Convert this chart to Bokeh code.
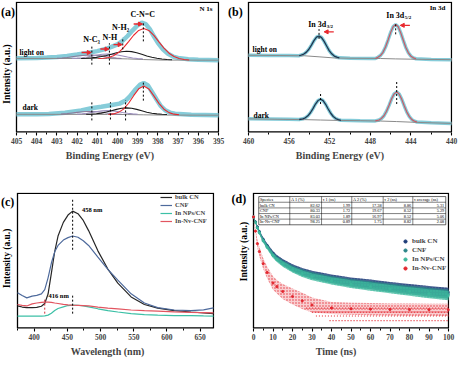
import math
from bokeh.plotting import figure
from bokeh.layouts import column, row
from bokeh.models import Range1d, FixedTicker, Arrow, NormalHead, Legend, LegendItem
from bokeh.core.properties import value
from bokeh.embed import file_html
from bokeh.resources import INLINE

FONT = "Liberation Serif"

# ---------------- (a) N 1s XPS ----------------
a_light_E = [405.0, 404.0, 403.5, 403.0, 402.5, 402.0, 401.5, 401.0, 400.6, 400.3, 400.0, 399.75,
             399.5, 399.25, 399.0, 398.8, 398.6, 398.4, 398.2, 398.0, 397.75, 397.5, 397.25, 397.0,
             396.5, 396.0, 395.0]
a_light_I = [57.1, 57.2, 57.6, 58.1, 58.9, 60.0, 61.2, 62.6, 64.2, 65.8, 67.8, 70.4,
             74.2, 78.6, 82.5, 84.4, 83.4, 79.5, 74.0, 69.0, 64.0, 60.5, 58.4, 57.4,
             56.4, 56.0, 55.6]
a_light_bg_E = [405.0, 400.5, 399.5, 398.7, 397.8, 395.0]
a_light_bg_I = [57.0, 56.9, 56.6, 56.1, 55.7, 55.6]
a_light_CNC_E = [400.95, 400.7, 400.45, 400.2, 399.95, 399.7, 399.45, 399.2, 398.95, 398.7,
                 398.45, 398.2, 397.95, 397.7, 397.45, 397.2, 396.95, 396.7, 396.45]
a_light_CNC_I = [56.9, 57.1, 57.7, 59.0, 61.5, 65.2, 69.9, 74.8, 78.5, 79.9,
                 78.5, 74.7, 69.7, 64.9, 61.0, 58.4, 56.9, 56.1, 55.8]
a_light_NH2_E = [401.8, 401.55, 401.3, 401.05, 400.8, 400.55, 400.3, 400.05, 399.8, 399.55,
                 399.3, 399.05, 398.8, 398.55, 398.3, 398.05, 397.8, 397.55, 397.3]
a_light_NH2_I = [56.9, 57.1, 57.4, 57.8, 58.4, 59.2, 60.2, 61.3, 62.1, 62.5,
                 62.2, 61.3, 60.1, 58.9, 57.9, 57.1, 56.5, 56.1, 55.9]
a_light_NH_E = [402.25, 402.0, 401.75, 401.5, 401.25, 401.0, 400.75, 400.5, 400.25, 400.0,
                399.75, 399.5, 399.25, 399.0, 398.75]
a_light_NH_I = [57.0, 57.2, 57.5, 58.0, 58.8, 59.6, 60.2, 60.4, 60.2, 59.6,
                58.8, 58.0, 57.3, 56.9, 56.6]
a_light_NC3_E = [403.0, 402.75, 402.5, 402.25, 402.0, 401.75, 401.5, 401.3, 401.05, 400.8,
                 400.55, 400.3, 400.05, 399.8]
a_light_NC3_I = [57.1, 57.3, 57.7, 58.3, 58.8, 59.2, 59.4, 59.5, 59.3, 58.9,
                 58.3, 57.7, 57.2, 56.9]

a_dark_E = [405.0, 404.0, 403.4, 402.6, 401.8, 401.3, 400.8, 400.35, 399.9, 399.6, 399.4, 399.15,
            398.9, 398.7, 398.5, 398.27, 398.05, 397.85, 397.63, 397.4, 397.15, 396.35, 395.0]
a_dark_I = [14.0, 14.0, 14.2, 15.2, 17.0, 18.6, 19.8, 21.0, 22.2, 24.5, 27.6, 32.4,
            36.6, 38.0, 36.4, 30.6, 25.0, 20.2, 17.0, 15.3, 14.5, 13.6, 13.3]
a_dark_bg_E = [405.0, 400.5, 399.5, 398.7, 397.8, 395.0]
a_dark_bg_I = [14.0, 13.9, 13.8, 13.6, 13.4, 13.3]
a_dark_CNC_E = [400.45, 400.2, 399.95, 399.7, 399.45, 399.2, 398.95, 398.7,
                398.45, 398.2, 397.95, 397.7, 397.45, 397.2, 396.95]
a_dark_CNC_I = [13.9, 14.3, 15.5, 18.0, 22.5, 28.3, 33.6, 35.7,
                33.5, 28.2, 22.4, 17.9, 15.3, 14.1, 13.6]
a_dark_NH2_E = [401.55, 401.3, 401.05, 400.8, 400.55, 400.3, 400.05, 399.8, 399.55,
                399.3, 399.05, 398.8, 398.55, 398.3, 398.05, 397.8, 397.55]
a_dark_NH2_I = [14.0, 14.1, 14.4, 14.9, 15.7, 16.7, 17.8, 18.6, 18.9,
                18.6, 17.8, 16.7, 15.6, 14.8, 14.3, 14.0, 13.8]
a_dark_NH_E = [402.0, 401.75, 401.5, 401.25, 401.0, 400.75, 400.5, 400.25, 400.0, 399.75,
               399.5, 399.25, 399.0]
a_dark_NH_I = [14.1, 14.4, 14.8, 15.5, 16.1, 16.6, 16.8, 16.6, 16.1, 15.4, 14.8, 14.3, 14.0]
a_dark_NC3_E = [402.8, 402.5, 402.25, 402.0, 401.75, 401.5, 401.3, 401.05, 400.8, 400.55,
                400.3, 400.05, 399.8]
a_dark_NC3_I = [14.1, 14.5, 15.0, 15.5, 15.9, 16.1, 16.2, 16.0, 15.6, 15.0, 14.5, 14.2, 14.0]

a_peak_labels = ["N-C\u2083", "N-H", "N-H\u2082", "C-N=C"]
a_light_peak_E = [401.27, 400.4, 399.74, 398.72]
a_dark_peak_E = [401.27, 400.35, 399.6, 398.72]

# ---------------- (b) In 3d XPS ----------------
b_light_E = [460, 458, 456, 455, 454.8, 454.55, 454.3, 454.05, 453.8, 453.55, 453.3, 453.05,
             452.8, 452.55, 452.3, 452.05, 451.8, 451.55, 451.3, 451.05, 450, 448, 447.5,
             447.25, 447.0, 446.75, 446.5, 446.25, 446.0, 445.75, 445.5, 445.25, 445.0, 444.75,
             444.5, 444.25, 444.0, 443.75, 443.5, 442, 440]
b_light_I = [59.4, 59.3, 59.2, 59.1, 59.6, 60.3, 61.8, 64.0, 67.2, 70.6, 73.3, 74.2,
             73.0, 70.1, 66.5, 63.0, 60.5, 58.8, 57.9, 57.4, 57.1, 57.0, 56.9,
             57.9, 59.2, 61.7, 65.7, 71.1, 76.8, 81.4, 83.0, 81.3, 76.6, 70.9,
             65.4, 61.3, 58.7, 57.4, 56.7, 56.2, 56.0]
b_light_bg_E = [460, 454.5, 453.05, 451.5, 450, 447, 445.5, 444, 440]
b_light_bg_I = [59.4, 59.0, 58.2, 57.3, 57.1, 56.9, 56.6, 56.4, 56.0]
b_dark_E = [460, 458, 456, 455, 454.65, 454.4, 454.15, 453.9, 453.65, 453.4, 453.15, 452.9,
            452.65, 452.4, 452.15, 451.9, 451.65, 451.4, 451.15, 450.9, 449, 447.5,
            447.15, 446.9, 446.65, 446.4, 446.15, 445.9, 445.65, 445.4, 445.15, 444.9, 444.65,
            444.4, 444.15, 443.9, 443.65, 443.4, 442, 440]
b_dark_I = [10.5, 10.3, 10.1, 10.0, 10.5, 11.3, 12.8, 15.2, 18.4, 21.9, 24.6, 25.6,
            24.5, 21.7, 18.1, 14.8, 12.3, 10.7, 9.9, 9.4, 9.1, 8.9,
            9.6, 10.8, 12.9, 16.4, 20.9, 25.9, 29.7, 31.1, 29.5, 25.5, 20.4,
            15.7, 12.2, 9.9, 8.7, 8.1, 7.5, 7.0]
b_dark_bg_E = [460, 454.5, 452.9, 451.2, 449, 447, 445.4, 443.5, 440]
b_dark_bg_I = [10.5, 9.9, 9.6, 9.3, 9.1, 8.8, 8.4, 7.8, 7.0]
b_light_peak_E = [453.05, 445.5]
b_dark_peak_E = [452.9, 445.4]

# ---------------- (c) PL spectra ----------------
c_wl = [375, 382, 389, 397, 404, 411, 416, 421, 426, 431, 436, 444, 451, 458, 466, 474, 482,
        496, 511, 526, 546, 566, 586, 611, 636, 655, 670]
c_bulkCN = [16.7, 15.9, 15.5, 15.5, 15.7, 16.5, 18.5, 25.5, 41.0, 57.0, 68.5, 78.6, 84.0, 86.9,
            85.0, 80.0, 72.5, 57.5, 44.0, 33.6, 23.4, 17.8, 15.1, 13.3, 12.2, 11.5, 11.0]
c_CNF = [26.4, 24.4, 22.7, 24.0, 24.5, 25.6, 28.8, 37.5, 48.5, 56.8, 61.5, 65.5, 67.3, 68.5,
         67.6, 65.0, 61.5, 52.8, 43.8, 35.8, 25.7, 18.9, 15.5, 13.7, 13.3, 13.8, 15.3]
c_InNPsCN = [9.2, 9.2, 9.2, 9.2, 9.2, 9.2, 9.4, 9.9, 11.3, 13.3, 14.8, 16.0, 17.0, 17.3,
             17.2, 16.8, 16.0, 14.6, 13.3, 12.2, 11.0, 10.3, 9.9, 9.6, 9.5, 9.3, 9.2]
c_InNvCNF = [17.8, 17.1, 16.7, 18.2, 18.9, 19.4, 19.6, 19.6, 19.4, 18.9, 18.5, 17.8, 17.5, 17.3,
             17.1, 16.9, 16.7, 15.9, 15.1, 14.5, 13.7, 13.2, 12.8, 12.3, 11.9, 11.7, 11.5]
c_names = ["bulk CN", "CNF", "In NPs/CN", "In-Nv-CNF"]
c_peak_main = 458
c_peak_red = 416

# ---------------- (d) TRPL decay ----------------
d_t = [0, 1, 2, 3, 5, 7, 10, 12, 15, 20, 25, 30, 40, 50, 60, 70, 80, 90, 100]
d_bulkCN = [82.6, 79.0, 75.2, 71.8, 66.0, 61.5, 55.6, 52.6, 49.4, 45.3, 42.4, 40.2, 37.2, 34.9,
            33.2, 31.4, 29.7, 28.1, 26.8]
d_CNF = [82.6, 78.8, 74.8, 71.3, 65.4, 60.8, 54.8, 51.8, 48.6, 44.4, 41.5, 39.3, 36.2, 33.8,
         32.0, 30.2, 28.5, 26.8, 25.5]
d_InNPsCN = [82.6, 78.5, 74.4, 70.8, 64.8, 60.1, 54.0, 51.0, 47.8, 43.6, 40.6, 38.3, 35.2, 32.8,
             31.0, 29.2, 27.4, 25.7, 24.4]
d_InNvCNF = [82.6, 72.1, 62.8, 57.0, 48.0, 41.5, 33.7, 31.0, 27.4, 23.7, 20.5, 17.4, 15.2, 14.6,
             14.3, 14.1, 14.0, 13.9, 13.8]
d_spread_cn = [0.3, 0.8, 1.0, 1.2, 1.3, 1.5, 1.7, 1.8, 2.0, 2.2, 2.4, 2.5, 2.7, 2.9, 3.0, 3.1,
               3.2, 3.3, 3.4]
d_spread_red = [0.3, 2.0, 3.0, 3.5, 4.0, 4.5, 5.0, 5.0, 5.5, 6.0, 6.0, 5.5, 4.5, 4.5, 4.5, 4.5,
                4.5, 4.5, 4.5]
d_red_levels = [15.1, 12.1, 9.3, 5.8]
d_red_level_start = [27, 30, 32, 39]
d_table_head = ["Species", "A 1 (%)", "\u03c4 1 (ns)", "A 2 (%)", "\u03c4 2 (ns)", "\u03c4 average (ns)"]
d_species = ["bulk CN", "CNF", "In NPs/CN", "In-Nv-CNF"]
d_A1 = ["82.62", "80.33", "83.03", "98.25"]
d_tau1 = ["1.99", "1.72", "1.89", "0.89"]
d_A2 = ["17.38", "19.67", "16.97", "1.75"]
d_tau2 = ["8.86", "8.52", "8.52", "8.82"]
d_tauavg = ["5.31", "5.29", "5.06", "2.08"]

# ---------------- styling helpers ----------------
CYAN = "#86CCD9"
RED = "#E8282E"
BLACK = "#1A1A1A"
LAV = "#9C8FBE"
PURP = "#8C7A9A"
GREY = "#8A8A8A"


def make_fig(W, H, L, br, bt, bb, x0, x1, xticks, xminor, xlabel):
    """Frame spans the canvas from x=0; the drawn box starts L px in, so labels
    left of the box (panel letter, y title) are inside the frame."""
    fw = W - br
    fh = H - bt - bb
    perx = (x1 - x0) / (fw - 1 - L)
    xs = x0 - L * perx
    xe = x1 + perx
    pery = 100.0 / (fh - 1)
    p = figure(width=W, height=H, x_range=Range1d(xs, xe), y_range=Range1d(0, 100 + pery),
               output_backend="svg", toolbar_location=None, y_axis_location=None,
               min_border_left=0, min_border_right=br, min_border_top=bt, min_border_bottom=bb)
    p.grid.visible = False
    p.outline_line_color = None
    xa = p.xaxis[0]
    xa.ticker = FixedTicker(ticks=xticks, minor_ticks=xminor)
    xa.axis_label = xlabel
    xa.axis_label_text_font = FONT
    xa.axis_label_text_font_style = "bold"
    xa.axis_label_text_font_size = "10px"
    xa.axis_label_standoff = 3
    xa.major_label_text_font = FONT
    xa.major_label_text_font_style = "bold"
    xa.major_label_text_font_size = "7.5px"
    xa.major_label_standoff = 2
    xa.axis_line_color = None
    xa.major_tick_in = 0
    xa.major_tick_out = 3
    xa.major_tick_line_width = 1.1
    xa.minor_tick_in = 0
    xa.minor_tick_out = 2
    p.line([x0, x0, x1, x1], [0, 100, 100, 0], line_color="black", line_width=1.3,
           line_join="miter")
    p.line([x0, x1], [0, 0], line_color="black", line_width=2.6)
    return p, (lambda px: xs + px * perx)


def txt(p, x, y, s, size, color="black", align="center", baseline="middle", style="bold",
        angle=0.0):
    p.text(x=[x], y=[y], text=[s], text_font=value(FONT), text_font_style=style,
           text_font_size=size, text_color=color, text_align=align, text_baseline=baseline,
           angle=angle)


def panel_label(p, x, y, s):
    txt(p, x, y, s, "12px", align="left")


def ytitle(p, x, y):
    txt(p, x, y, "Intensity (a.u.)", "9.5px", angle=math.pi / 2)


def vdash(p, x, y0, y1, color="black"):
    p.line([x, x], [y0, y1], line_color=color, line_width=1, line_dash="2 2")


def arrow(p, x0, y0, x1, y1):
    p.add_layout(Arrow(end=NormalHead(size=4, fill_color=RED, line_color=RED),
                       x_start=x0, y_start=y0, x_end=x1, y_end=y1,
                       line_color=RED, line_width=1.4))


# ================= (a) =================
pa, pxa = make_fig(227, 163, 16, 8, 1, 26, 405, 395, list(range(395, 406)),
                   [395.5 + i for i in range(10)], "Binding Energy (eV)")
for E, I, bgE, bgI, comps in [
    (a_light_E, a_light_I, a_light_bg_E, a_light_bg_I,
     [(a_light_NC3_E, a_light_NC3_I, PURP), (a_light_NH_E, a_light_NH_I, LAV),
      (a_light_NH2_E, a_light_NH2_I, BLACK), (a_light_CNC_E, a_light_CNC_I, RED)]),
    (a_dark_E, a_dark_I, a_dark_bg_E, a_dark_bg_I,
     [(a_dark_NC3_E, a_dark_NC3_I, PURP), (a_dark_NH_E, a_dark_NH_I, LAV),
      (a_dark_NH2_E, a_dark_NH2_I, BLACK), (a_dark_CNC_E, a_dark_CNC_I, RED)])]:
    pa.line(E, I, line_color=CYAN, line_width=4.5)
    pa.line(bgE, bgI, line_color=GREY, line_width=1)
    for cE, cI, col in comps:
        pa.line(cE, cI, line_color=col, line_width=1.1)

light_top = [67.4, 68.6, 73.2, 84.1]
light_bot = [52.2, 52.2, 63.9, 70.1]
dark_top = [23.3, 23.3, 25.0, 39.6]
dark_bot = [9.3, 10.0, 9.3, 24.5]
for i in range(4):
    vdash(pa, a_light_peak_E[i], light_bot[i], light_top[i])
    vdash(pa, a_dark_peak_E[i], dark_bot[i], dark_top[i])
lab_pos = [(401.28, 71.8), (400.38, 73.0), (399.85, 81.0), (398.75, 90.9)]
for (x, y), s in zip(lab_pos, a_peak_labels):
    txt(pa, x, y, s, "8px")
arrow(pa, 401.78, 61.5, 401.3, 61.5)
arrow(pa, 400.85, 64.2, 400.42, 64.2)
arrow(pa, 400.2, 67.6, 399.77, 67.6)
arrow(pa, 399.2, 83.4, 398.76, 83.4)
txt(pa, 404.85, 61.7, "light on", "7.5px", align="left")
txt(pa, 404.7, 19.0, "dark", "7.5px", align="left")
txt(pa, 395.3, 95.3, "N 1s", "7px", align="right")
panel_label(pa, pxa(0.5), 92.5, "(a)")
ytitle(pa, pxa(6), 45)

# ================= (b) =================
pb, pxb = make_fig(231, 163, 21, 6, 1, 26, 460, 440, [460, 456, 452, 448, 444, 440],
                   [458, 454, 450, 446, 442], "Binding Energy (eV)")
NAVY = "#1F3550"
PINK = "#C85A66"
for E, I, bgE, bgI in [(b_light_E, b_light_I, b_light_bg_E, b_light_bg_I),
                       (b_dark_E, b_dark_I, b_dark_bg_E, b_dark_bg_I)]:
    pb.line(E, I, line_color=CYAN, line_width=3.5)
    pb.line(bgE, bgI, line_color=GREY, line_width=1)
    i1 = [k for k, e in enumerate(E) if 450.8 <= e <= 455.0]
    i2 = [k for k, e in enumerate(E) if 443.3 <= e <= 447.6]
    pb.line([E[k] for k in i1], [I[k] for k in i1], line_color=NAVY, line_width=1.3)
    pb.line([E[k] for k in i2], [I[k] for k in i2], line_color=PINK, line_width=1.2)
vdash(pb, b_light_peak_E[0], 72.0, 79.5)
vdash(pb, b_light_peak_E[1], 75.5, 84.5)
vdash(pb, b_dark_peak_E[0], 21.9, 31.2)
vdash(pb, b_dark_peak_E[1], 21.9, 39.4)
arrow(pb, 451.6, 77.4, 452.55, 77.4)
arrow(pb, 444.1, 82.4, 445.05, 82.4)
for xa_, yb, sub in [(452.35, 83.3, "3/2"), (444.65, 90.3, "5/2")]:
    txt(pb, xa_, yb, "In 3d", "8px", align="right", baseline="alphabetic")
    txt(pb, xa_ - 0.05, yb - 1.8, sub, "5px", align="left", baseline="alphabetic")
txt(pb, 459.6, 63.6, "light on", "7.5px", align="left")
txt(pb, 459.5, 13.3, "dark", "7.5px", align="left")
txt(pb, 440.6, 96.0, "In 3d", "7px", align="right")
panel_label(pb, pxb(0.5), 92.5, "(b)")

# ================= (c) =================
pc, pxc = make_fig(222, 196, 17, 8, 29, 26, 375, 670, [400, 450, 500, 550, 600, 650],
                   [375, 425, 475, 525, 575, 625], "Wavelength (nm)")
c_cols = ["#262626", "#4E6A9C", "#3CC0A6", "#E25560"]
c_series = [c_bulkCN, c_CNF, c_InNPsCN, c_InNvCNF]
c_rends = []
for ys, col in zip(c_series, c_cols):
    c_rends.append(pc.line(c_wl, ys, line_color=col, line_width=1.2))
vdash(pc, c_peak_main, 58.3, 96.6)
vdash(pc, c_peak_main, 11.0, 25.7)
vdash(pc, c_peak_red, 11.0, 22.3, color="#D0303A")
txt(pc, 472, 87.8, "458 nm", "6.5px", align="left")
txt(pc, 421.5, 24.6, "416 nm", "6.5px", align="left")
leg_c = Legend(items=[LegendItem(label=n, renderers=[r]) for n, r in zip(c_names, c_rends)],
               location=(160, 104), label_text_font=FONT, label_text_font_style="bold",
               label_text_font_size="6.5px", glyph_width=12, glyph_height=6, label_height=6,
               spacing=1, padding=0, margin=0, label_standoff=3, border_line_color=None,
               background_fill_alpha=0)
pc.add_layout(leg_c)
panel_label(pc, pxc(0.5), 93.6, "(c)")
ytitle(pc, pxc(6), 52)

# ================= (d) =================
pd_, pxd = make_fig(236, 196, 31, 9, 29, 26, 0, 100, list(range(0, 101, 10)),
                    list(range(5, 100, 10)), "Time (ns)")
d_cols = ["#1D3C78", "#2B8588", "#3DB89C", "#E3262E"]
d_series = [d_bulkCN, d_CNF, d_InNPsCN, d_InNvCNF]
d_spreads = [d_spread_cn, d_spread_cn, d_spread_cn, d_spread_red]
d_fill_alpha = [0.8, 0.8, 0.75, 0.22]
d_rends = []
for ys, sp, col, fa in zip(d_series, d_spreads, d_cols, d_fill_alpha):
    lo = [a - b for a, b in zip(ys, sp)]
    hi = [a + b for a, b in zip(ys, sp)]
    pd_.varea(x=d_t, y1=lo, y2=hi, fill_color=col, fill_alpha=fa,
              hatch_pattern="dot", hatch_color=col, hatch_alpha=0.9, hatch_scale=3, hatch_weight=1)
    d_rends.append(pd_.scatter(d_t, ys, size=2.2, color=col, marker="circle"))
for lv, ts in zip(d_red_levels, d_red_level_start):
    pd_.line([ts, 100], [lv, lv], line_color=d_cols[3], line_width=1.1, line_dash="1 2")
col_t = [2.7, 18.6, 34.9, 50.4, 66.5, 81.7, 98.6]
row_y = [97.7, 93.5, 89.3, 85.1, 81.0, 76.8]
pd_.quad(left=[col_t[0]], right=[col_t[-1]], top=[row_y[0]], bottom=[row_y[-1]],
         fill_color="white", line_color="black", line_width=0.6)
for yv in row_y[1:5]:
    pd_.line([col_t[0], col_t[-1]], [yv, yv], line_color="black", line_width=0.5)
for xv in col_t[1:6]:
    pd_.line([xv, xv], [row_y[0], row_y[-1]], line_color="black", line_width=0.5)
cells = [d_table_head] + [list(r) for r in zip(d_species, d_A1, d_tau1, d_A2, d_tau2, d_tauavg)]
for ri, rowvals in enumerate(cells):
    ymid = (row_y[ri] + row_y[ri + 1]) / 2
    for ci, s in enumerate(rowvals):
        if ri == 0 or ci == 0:
            pd_.text(x=[col_t[ci] + 0.6], y=[ymid], text=[s], text_font=value(FONT),
                     text_font_size="4.3px", text_align="left", text_baseline="middle")
        else:
            pd_.text(x=[col_t[ci + 1] - 0.8], y=[ymid], text=[s], text_font=value(FONT),
                     text_font_size="4.3px", text_align="right", text_baseline="middle")
leg_d = Legend(items=[LegendItem(label=n, renderers=[r]) for n, r in zip(d_species, d_rends)],
               location=(179, 56), label_text_font=FONT, label_text_font_style="bold",
               label_text_font_size="7px", glyph_width=8, glyph_height=8, label_height=8,
               spacing=1, padding=0, margin=0, label_standoff=3, border_line_color=None,
               background_fill_alpha=0)
pd_.add_layout(leg_d)
panel_label(pd_, pxd(9), 95.7, "(d)")
ytitle(pd_, pxd(21.5), 57)

layout = column(row(pa, pb), row(pc, pd_))
open("out.html", "w").write(file_html(layout, INLINE))
